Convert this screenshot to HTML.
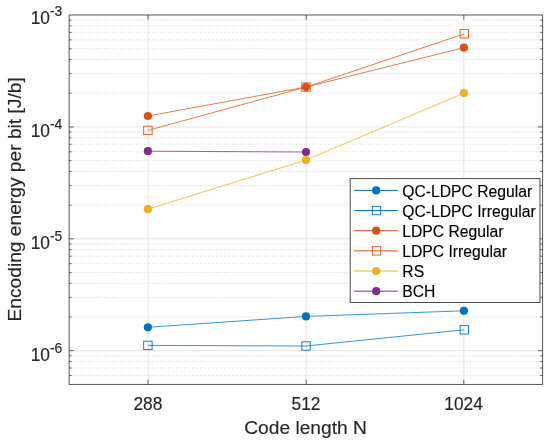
<!DOCTYPE html>
<html><head><meta charset="utf-8"><title>Encoding energy per bit</title>
<style>html,body{margin:0;padding:0;background:#fff}body{width:550px;height:444px;overflow:hidden}</style></head>
<body>
<svg width="550" height="444" viewBox="0 0 550 444" style="display:block;font-family:'Liberation Sans',Arial,sans-serif">
<rect width="550" height="444" fill="#fff"/>
<g fill="none">
<line x1="148.1" y1="15.0" x2="148.1" y2="384.45" stroke="#e4e4e4" stroke-width="1"/>
<line x1="306.2" y1="15.0" x2="306.2" y2="384.45" stroke="#e4e4e4" stroke-width="1"/>
<line x1="463.8" y1="15.0" x2="463.8" y2="384.45" stroke="#e4e4e4" stroke-width="1"/>
<line x1="69.15" y1="126.94" x2="542.6" y2="126.94" stroke="#e4e4e4" stroke-width="1"/>
<line x1="69.15" y1="238.82" x2="542.6" y2="238.82" stroke="#e4e4e4" stroke-width="1"/>
<line x1="69.15" y1="350.70" x2="542.6" y2="350.70" stroke="#e4e4e4" stroke-width="1"/>
<line x1="69.15" y1="93.26" x2="542.6" y2="93.26" stroke="#d6d6d6" stroke-width="0.9" stroke-dasharray="1 1.67"/>
<line x1="69.15" y1="73.56" x2="542.6" y2="73.56" stroke="#d6d6d6" stroke-width="0.9" stroke-dasharray="1 1.67"/>
<line x1="69.15" y1="59.58" x2="542.6" y2="59.58" stroke="#d6d6d6" stroke-width="0.9" stroke-dasharray="1 1.67"/>
<line x1="69.15" y1="48.74" x2="542.6" y2="48.74" stroke="#d6d6d6" stroke-width="0.9" stroke-dasharray="1 1.67"/>
<line x1="69.15" y1="39.88" x2="542.6" y2="39.88" stroke="#d6d6d6" stroke-width="0.9" stroke-dasharray="1 1.67"/>
<line x1="69.15" y1="32.39" x2="542.6" y2="32.39" stroke="#d6d6d6" stroke-width="0.9" stroke-dasharray="1 1.67"/>
<line x1="69.15" y1="25.90" x2="542.6" y2="25.90" stroke="#d6d6d6" stroke-width="0.9" stroke-dasharray="1 1.67"/>
<line x1="69.15" y1="20.18" x2="542.6" y2="20.18" stroke="#d6d6d6" stroke-width="0.9" stroke-dasharray="1 1.67"/>
<line x1="69.15" y1="205.14" x2="542.6" y2="205.14" stroke="#d6d6d6" stroke-width="0.9" stroke-dasharray="1 1.67"/>
<line x1="69.15" y1="185.44" x2="542.6" y2="185.44" stroke="#d6d6d6" stroke-width="0.9" stroke-dasharray="1 1.67"/>
<line x1="69.15" y1="171.46" x2="542.6" y2="171.46" stroke="#d6d6d6" stroke-width="0.9" stroke-dasharray="1 1.67"/>
<line x1="69.15" y1="160.62" x2="542.6" y2="160.62" stroke="#d6d6d6" stroke-width="0.9" stroke-dasharray="1 1.67"/>
<line x1="69.15" y1="151.76" x2="542.6" y2="151.76" stroke="#d6d6d6" stroke-width="0.9" stroke-dasharray="1 1.67"/>
<line x1="69.15" y1="144.27" x2="542.6" y2="144.27" stroke="#d6d6d6" stroke-width="0.9" stroke-dasharray="1 1.67"/>
<line x1="69.15" y1="137.78" x2="542.6" y2="137.78" stroke="#d6d6d6" stroke-width="0.9" stroke-dasharray="1 1.67"/>
<line x1="69.15" y1="132.06" x2="542.6" y2="132.06" stroke="#d6d6d6" stroke-width="0.9" stroke-dasharray="1 1.67"/>
<line x1="69.15" y1="317.02" x2="542.6" y2="317.02" stroke="#d6d6d6" stroke-width="0.9" stroke-dasharray="1 1.67"/>
<line x1="69.15" y1="297.32" x2="542.6" y2="297.32" stroke="#d6d6d6" stroke-width="0.9" stroke-dasharray="1 1.67"/>
<line x1="69.15" y1="283.34" x2="542.6" y2="283.34" stroke="#d6d6d6" stroke-width="0.9" stroke-dasharray="1 1.67"/>
<line x1="69.15" y1="272.50" x2="542.6" y2="272.50" stroke="#d6d6d6" stroke-width="0.9" stroke-dasharray="1 1.67"/>
<line x1="69.15" y1="263.64" x2="542.6" y2="263.64" stroke="#d6d6d6" stroke-width="0.9" stroke-dasharray="1 1.67"/>
<line x1="69.15" y1="256.15" x2="542.6" y2="256.15" stroke="#d6d6d6" stroke-width="0.9" stroke-dasharray="1 1.67"/>
<line x1="69.15" y1="249.66" x2="542.6" y2="249.66" stroke="#d6d6d6" stroke-width="0.9" stroke-dasharray="1 1.67"/>
<line x1="69.15" y1="243.94" x2="542.6" y2="243.94" stroke="#d6d6d6" stroke-width="0.9" stroke-dasharray="1 1.67"/>
<line x1="69.15" y1="375.52" x2="542.6" y2="375.52" stroke="#d6d6d6" stroke-width="0.9" stroke-dasharray="1 1.67"/>
<line x1="69.15" y1="368.03" x2="542.6" y2="368.03" stroke="#d6d6d6" stroke-width="0.9" stroke-dasharray="1 1.67"/>
<line x1="69.15" y1="361.54" x2="542.6" y2="361.54" stroke="#d6d6d6" stroke-width="0.9" stroke-dasharray="1 1.67"/>
<line x1="69.15" y1="355.82" x2="542.6" y2="355.82" stroke="#d6d6d6" stroke-width="0.9" stroke-dasharray="1 1.67"/>
</g>
<polyline points="147.90,327.30 306.00,316.40 463.90,310.80" fill="none" stroke="#0072BD" stroke-width="0.9" stroke-opacity="0.85"/>
<circle cx="147.90" cy="327.30" r="4.1" fill="#0072BD"/>
<circle cx="306.00" cy="316.40" r="4.1" fill="#0072BD"/>
<circle cx="463.90" cy="310.80" r="4.1" fill="#0072BD"/>
<polyline points="147.90,345.40 306.00,346.00 464.30,329.80" fill="none" stroke="#0072BD" stroke-width="0.9" stroke-opacity="0.85"/>
<rect x="143.70" y="341.20" width="8.4" height="8.4" fill="none" stroke="#0072BD" stroke-width="0.9"/>
<rect x="301.80" y="341.80" width="8.4" height="8.4" fill="none" stroke="#0072BD" stroke-width="0.9"/>
<rect x="460.10" y="325.60" width="8.4" height="8.4" fill="none" stroke="#0072BD" stroke-width="0.9"/>
<polyline points="147.90,116.00 306.00,87.00 463.90,47.70" fill="none" stroke="#D95319" stroke-width="0.9" stroke-opacity="0.85"/>
<circle cx="147.90" cy="116.00" r="4.1" fill="#D95319"/>
<circle cx="306.00" cy="87.00" r="4.1" fill="#D95319"/>
<circle cx="463.90" cy="47.70" r="4.1" fill="#D95319"/>
<polyline points="147.90,130.40 306.00,87.10 464.30,33.80" fill="none" stroke="#D95319" stroke-width="0.9" stroke-opacity="0.85"/>
<rect x="143.70" y="126.20" width="8.4" height="8.4" fill="none" stroke="#D95319" stroke-width="0.9"/>
<rect x="301.80" y="82.90" width="8.4" height="8.4" fill="none" stroke="#D95319" stroke-width="0.9"/>
<rect x="460.10" y="29.60" width="8.4" height="8.4" fill="none" stroke="#D95319" stroke-width="0.9"/>
<polyline points="147.90,209.20 306.00,160.00 463.90,93.10" fill="none" stroke="#EDB120" stroke-width="0.9" stroke-opacity="0.85"/>
<circle cx="147.90" cy="209.20" r="4.1" fill="#EDB120"/>
<circle cx="306.00" cy="160.00" r="4.1" fill="#EDB120"/>
<circle cx="463.90" cy="93.10" r="4.1" fill="#EDB120"/>
<polyline points="147.90,151.20 306.00,152.00" fill="none" stroke="#7E2F8E" stroke-width="0.9" stroke-opacity="0.85"/>
<circle cx="147.90" cy="151.20" r="4.1" fill="#7E2F8E"/>
<circle cx="306.00" cy="152.00" r="4.1" fill="#7E2F8E"/>
<g stroke="#555555" stroke-width="1" fill="none">
<rect x="69.15" y="15.0" width="473.45000000000005" height="369.45"/>
</g>
<g stroke="#333" stroke-width="0.75" fill="none">
<line x1="148.1" y1="384.45" x2="148.1" y2="379.75"/>
<line x1="148.1" y1="15.0" x2="148.1" y2="19.7"/>
<line x1="306.2" y1="384.45" x2="306.2" y2="379.75"/>
<line x1="306.2" y1="15.0" x2="306.2" y2="19.7"/>
<line x1="463.8" y1="384.45" x2="463.8" y2="379.75"/>
<line x1="463.8" y1="15.0" x2="463.8" y2="19.7"/>
<line x1="69.15" y1="126.94" x2="73.85000000000001" y2="126.94"/>
<line x1="542.6" y1="126.94" x2="537.9" y2="126.94"/>
<line x1="69.15" y1="238.82" x2="73.85000000000001" y2="238.82"/>
<line x1="542.6" y1="238.82" x2="537.9" y2="238.82"/>
<line x1="69.15" y1="350.70" x2="73.85000000000001" y2="350.70"/>
<line x1="542.6" y1="350.70" x2="537.9" y2="350.70"/>
<line x1="69.15" y1="93.26" x2="71.55000000000001" y2="93.26"/>
<line x1="542.6" y1="93.26" x2="540.2" y2="93.26"/>
<line x1="69.15" y1="73.56" x2="71.55000000000001" y2="73.56"/>
<line x1="542.6" y1="73.56" x2="540.2" y2="73.56"/>
<line x1="69.15" y1="59.58" x2="71.55000000000001" y2="59.58"/>
<line x1="542.6" y1="59.58" x2="540.2" y2="59.58"/>
<line x1="69.15" y1="48.74" x2="71.55000000000001" y2="48.74"/>
<line x1="542.6" y1="48.74" x2="540.2" y2="48.74"/>
<line x1="69.15" y1="39.88" x2="71.55000000000001" y2="39.88"/>
<line x1="542.6" y1="39.88" x2="540.2" y2="39.88"/>
<line x1="69.15" y1="32.39" x2="71.55000000000001" y2="32.39"/>
<line x1="542.6" y1="32.39" x2="540.2" y2="32.39"/>
<line x1="69.15" y1="25.90" x2="71.55000000000001" y2="25.90"/>
<line x1="542.6" y1="25.90" x2="540.2" y2="25.90"/>
<line x1="69.15" y1="20.18" x2="71.55000000000001" y2="20.18"/>
<line x1="542.6" y1="20.18" x2="540.2" y2="20.18"/>
<line x1="69.15" y1="205.14" x2="71.55000000000001" y2="205.14"/>
<line x1="542.6" y1="205.14" x2="540.2" y2="205.14"/>
<line x1="69.15" y1="185.44" x2="71.55000000000001" y2="185.44"/>
<line x1="542.6" y1="185.44" x2="540.2" y2="185.44"/>
<line x1="69.15" y1="171.46" x2="71.55000000000001" y2="171.46"/>
<line x1="542.6" y1="171.46" x2="540.2" y2="171.46"/>
<line x1="69.15" y1="160.62" x2="71.55000000000001" y2="160.62"/>
<line x1="542.6" y1="160.62" x2="540.2" y2="160.62"/>
<line x1="69.15" y1="151.76" x2="71.55000000000001" y2="151.76"/>
<line x1="542.6" y1="151.76" x2="540.2" y2="151.76"/>
<line x1="69.15" y1="144.27" x2="71.55000000000001" y2="144.27"/>
<line x1="542.6" y1="144.27" x2="540.2" y2="144.27"/>
<line x1="69.15" y1="137.78" x2="71.55000000000001" y2="137.78"/>
<line x1="542.6" y1="137.78" x2="540.2" y2="137.78"/>
<line x1="69.15" y1="132.06" x2="71.55000000000001" y2="132.06"/>
<line x1="542.6" y1="132.06" x2="540.2" y2="132.06"/>
<line x1="69.15" y1="317.02" x2="71.55000000000001" y2="317.02"/>
<line x1="542.6" y1="317.02" x2="540.2" y2="317.02"/>
<line x1="69.15" y1="297.32" x2="71.55000000000001" y2="297.32"/>
<line x1="542.6" y1="297.32" x2="540.2" y2="297.32"/>
<line x1="69.15" y1="283.34" x2="71.55000000000001" y2="283.34"/>
<line x1="542.6" y1="283.34" x2="540.2" y2="283.34"/>
<line x1="69.15" y1="272.50" x2="71.55000000000001" y2="272.50"/>
<line x1="542.6" y1="272.50" x2="540.2" y2="272.50"/>
<line x1="69.15" y1="263.64" x2="71.55000000000001" y2="263.64"/>
<line x1="542.6" y1="263.64" x2="540.2" y2="263.64"/>
<line x1="69.15" y1="256.15" x2="71.55000000000001" y2="256.15"/>
<line x1="542.6" y1="256.15" x2="540.2" y2="256.15"/>
<line x1="69.15" y1="249.66" x2="71.55000000000001" y2="249.66"/>
<line x1="542.6" y1="249.66" x2="540.2" y2="249.66"/>
<line x1="69.15" y1="243.94" x2="71.55000000000001" y2="243.94"/>
<line x1="542.6" y1="243.94" x2="540.2" y2="243.94"/>
<line x1="69.15" y1="375.52" x2="71.55000000000001" y2="375.52"/>
<line x1="542.6" y1="375.52" x2="540.2" y2="375.52"/>
<line x1="69.15" y1="368.03" x2="71.55000000000001" y2="368.03"/>
<line x1="542.6" y1="368.03" x2="540.2" y2="368.03"/>
<line x1="69.15" y1="361.54" x2="71.55000000000001" y2="361.54"/>
<line x1="542.6" y1="361.54" x2="540.2" y2="361.54"/>
<line x1="69.15" y1="355.82" x2="71.55000000000001" y2="355.82"/>
<line x1="542.6" y1="355.82" x2="540.2" y2="355.82"/>
</g>
<g fill="#262626" font-size="17.33px" stroke="#262626" stroke-width="0.15">
<text transform="translate(147.90,409.65) scale(1,1.05)" text-anchor="middle">288</text>
<text transform="translate(306.00,409.65) scale(1,1.05)" text-anchor="middle">512</text>
<text transform="translate(463.60,409.65) scale(1,1.05)" text-anchor="middle">1024</text>
<text transform="translate(30.7,24.46) scale(1,1.05)">10<tspan font-size="13.9px" dy="-7.6">-3</tspan></text>
<text transform="translate(30.7,136.54) scale(1,1.05)">10<tspan font-size="13.9px" dy="-7.6">-4</tspan></text>
<text transform="translate(30.7,248.82) scale(1,1.05)">10<tspan font-size="13.9px" dy="-7.6">-5</tspan></text>
<text transform="translate(30.7,360.70) scale(1,1.05)">10<tspan font-size="13.9px" dy="-7.6">-6</tspan></text>
</g>
<text x="305.55" y="434.3" text-anchor="middle" font-size="19.2px" fill="#262626" stroke="#262626" stroke-width="0.15">Code length N</text>
<text transform="translate(21.4,199.4) rotate(-90)" text-anchor="middle" font-size="19.2px" fill="#262626" stroke="#262626" stroke-width="0.15">Encoding energy per bit [J/b]</text>
<rect x="350.2" y="178.6" width="189.8" height="123.9" fill="#fff" stroke="#4a4a4a" stroke-width="1"/>
<g font-size="15.7px" fill="#000">
<line x1="354.1" y1="190.40" x2="397.8" y2="190.40" stroke="#0072BD" stroke-width="1"/>
<circle cx="376.2" cy="190.40" r="4.1" fill="#0072BD"/>
<text x="402.3" y="196.60" stroke="#000" stroke-width="0.15">QC-LDPC Regular</text>
<line x1="354.1" y1="210.55" x2="397.8" y2="210.55" stroke="#0072BD" stroke-width="1"/>
<rect x="372.3" y="206.35" width="8.4" height="8.4" fill="none" stroke="#0072BD" stroke-width="0.9"/>
<text x="402.3" y="216.75" stroke="#000" stroke-width="0.15">QC-LDPC Irregular</text>
<line x1="354.1" y1="230.70" x2="397.8" y2="230.70" stroke="#D95319" stroke-width="1"/>
<circle cx="376.2" cy="230.70" r="4.1" fill="#D95319"/>
<text x="402.3" y="236.90" stroke="#000" stroke-width="0.15">LDPC Regular</text>
<line x1="354.1" y1="250.85" x2="397.8" y2="250.85" stroke="#D95319" stroke-width="1"/>
<rect x="372.3" y="246.65" width="8.4" height="8.4" fill="none" stroke="#D95319" stroke-width="0.9"/>
<text x="402.3" y="257.05" stroke="#000" stroke-width="0.15">LDPC Irregular</text>
<line x1="354.1" y1="271.00" x2="397.8" y2="271.00" stroke="#EDB120" stroke-width="1"/>
<circle cx="376.2" cy="271.00" r="4.1" fill="#EDB120"/>
<text x="402.3" y="277.20" stroke="#000" stroke-width="0.15">RS</text>
<line x1="354.1" y1="291.15" x2="397.8" y2="291.15" stroke="#7E2F8E" stroke-width="1"/>
<circle cx="376.2" cy="291.15" r="4.1" fill="#7E2F8E"/>
<text x="402.3" y="297.35" stroke="#000" stroke-width="0.15">BCH</text>
</g>
</svg>
</body></html>
